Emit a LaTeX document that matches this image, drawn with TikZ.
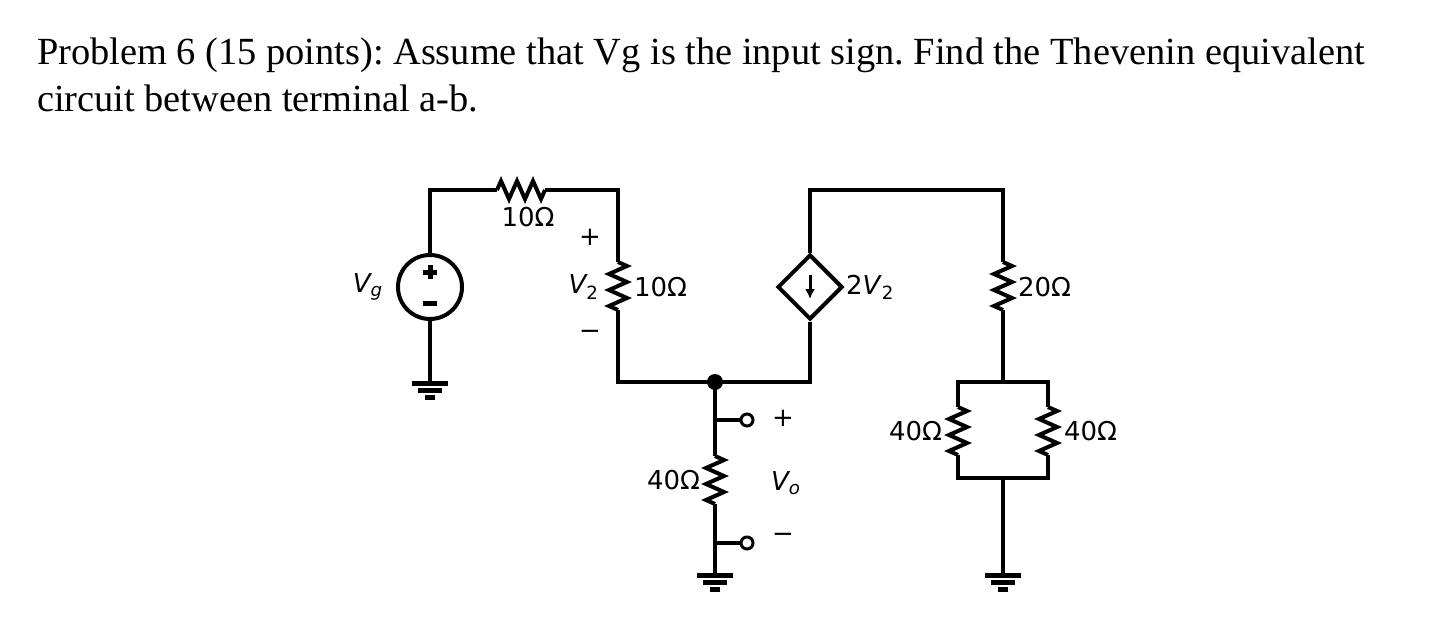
\documentclass[tikz,border=0pt]{standalone}
\usepackage{fontspec}
\setmainfont{Liberation Serif}
\newfontfamily\circfont{DejaVu Sans}
\usetikzlibrary{decorations.pathmorphing,shapes.geometric,arrows.meta,calc}
\newcommand{\ohmsym}{Ω}

\begin{document}
\frenchspacing
\begin{tikzpicture}[x=0.5pt,y=-0.5pt,line width=2pt,
wire/.style={line join=miter},
res/.style={decorate,decoration={zigzag,segment length=8pt,amplitude=4.5pt}},
lab/.style={font=\circfont\fontsize{13pt}{15pt}\selectfont,inner sep=1pt},
term/.style={circle,draw,fill=white,inner sep=0pt,minimum size=6pt,line width=1.5pt}]
\useasboundingbox (0,0) rectangle (1456,626);
% problem text
\node[anchor=base west,inner sep=0pt,font=\fontsize{19.2pt}{23pt}\selectfont] (t1) at (35,65) {Problem 6 (15 points): Assume that Vg is the input sign. Find the Thevenin equivalent};
\node[anchor=base west,inner sep=0pt,font=\fontsize{19.2pt}{23pt}\selectfont] (t2) at (35,112) {circuit between terminal a-b.};
% coordinates
\coordinate (g1) at (430,383);
\coordinate (tl) at (430,190);
\coordinate (r1a) at (497,190);
\coordinate (r1b) at (545,190);
\coordinate (tm) at (618,190);
\coordinate (r2a) at (618,262);
\coordinate (r2b) at (618,310);
\coordinate (bm) at (618,382);
\coordinate (j) at (715,382);
\coordinate (br) at (810,382);
\coordinate (tp) at (715,420);
\coordinate (r3a) at (715,456);
\coordinate (r3b) at (715,504);
\coordinate (tn) at (715,543);
\coordinate (g2) at (715,575);
\coordinate (tr) at (810,190);
\coordinate (trr) at (1003,190);
\coordinate (r4a) at (1003,262);
\coordinate (r4b) at (1003,310);
\coordinate (pt) at (1003,382);
\coordinate (pb) at (1003,478);
\coordinate (g3) at (1003,575);
\coordinate (pl) at (958,382);
\coordinate (pr) at (1048,382);
\coordinate (r5a) at (958,407);
\coordinate (r5b) at (958,455);
\coordinate (r6a) at (1048,407);
\coordinate (r6b) at (1048,455);
% sources
\node[circle,draw,minimum size=32pt,inner sep=0pt] (vg) at (430,287) {};
\draw[line width=2.5pt] (423,272) -- (437,272) (430,265) -- (430,279);
\draw[line width=2.5pt] (423,303) -- (437,303);
\node[diamond,draw,minimum size=32.5pt,inner sep=0pt] (ds) at (810,287) {};
\draw[-{Latex[length=5pt,width=5pt]},line width=1.5pt] (810,275) -- (810,299);
% wires
\draw[wire] (vg.south) -- (g1);
\draw[wire] (vg.north) -- (tl) -- (r1a);
\draw[res] (r1a) -- (r1b);
\draw[wire] (r1b) -- (tm) -- (r2a);
\draw[res] (r2a) -- (r2b);
\draw[wire] (r2b) -- (bm) -- (br) -- (ds.south);
\draw[wire] (ds.north) -- (tr) -- (trr) -- (r4a);
\draw[res] (r4a) -- (r4b);
\draw[wire] (r4b) -- (pt);
\draw[wire] (j) -- (r3a);
\draw[res] (r3a) -- (r3b);
\draw[wire] (r3b) -- (g2);
\draw[wire] (r5a) -- (pl) -- (pr) -- (r6a);
\draw[res] (r5a) -- (r5b);
\draw[res] (r6a) -- (r6b);
\draw[wire] (r5b) |- (pb) -| (r6b);
\draw[wire] (pb) -- (g3);
\fill (j) circle (4pt);
\node[term] (a) at (747,420) {};
\node[term] (b) at (747,543) {};
\draw (tp) -- (a);
\draw (tn) -- (b);
% grounds
\foreach \g in {g1,g2,g3}{
  \draw[line width=2.5pt] ($(\g)+(-18,0)$) -- ($(\g)+(18,0)$);
  \draw[line width=2.5pt] ($(\g)+(-12,7)$) -- ($(\g)+(12,7)$);
  \draw[line width=2.5pt] ($(\g)+(-5,14)$) -- ($(\g)+(5,14)$);
}
% labels
\node[lab] at (368,287) {\itshape V\textsubscript{g}};
\node[lab] at (528,217) {10\ohmsym};
\node[lab] at (590,237) {+};
\node[lab] at (590,335) {−};
\node[lab,anchor=east] at (603,287) {\itshape V\textsubscript{\upshape 2}};
\node[lab,anchor=west] at (630,287) {10\ohmsym};
\node[lab,anchor=west] at (842,287) {2\textit{V}\textsubscript{2}};
\node[lab,anchor=west] at (1014,287) {20\ohmsym};
\node[lab,anchor=east] at (946,431) {40\ohmsym};
\node[lab,anchor=west] at (1060,431) {40\ohmsym};
\node[lab,anchor=east] at (704,480) {40\ohmsym};
\node[lab] at (783,418) {+};
\node[lab] at (786,483) {\itshape V\textsubscript{o}};
\node[lab] at (783,538) {−};
\end{tikzpicture}
\end{document}
